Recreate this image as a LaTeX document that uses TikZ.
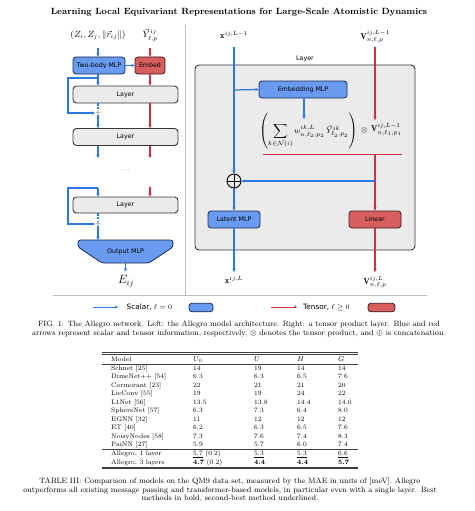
\documentclass[tikz,border=0pt]{standalone}
\usepackage{fontspec}
\newfontfamily\dv{DejaVu Sans}
\usetikzlibrary{arrows.meta,calc}
\definecolor{bl}{RGB}{45,120,225}
\definecolor{blf}{RGB}{105,155,240}
\definecolor{bld}{RGB}{25,40,85}
\definecolor{rdl}{RGB}{200,50,65}
\definecolor{rdf}{RGB}{215,95,95}
\definecolor{rdd}{RGB}{60,25,25}
\definecolor{lyf}{RGB}{235,235,235}
\definecolor{lyd}{RGB}{55,55,55}
\newcommand\trow[7]{%
  \node[tcell] (#2m) at (111,#1) {#3};
  \node[tcell] (#2a) at (193,#1) {#4};
  \node[tcell] (#2b) at (254,#1) {#5};
  \node[tcell] (#2c) at (297,#1) {#6};
  \node[tcell] (#2d) at (338,#1) {#7};}
\begin{document}
\begin{tikzpicture}[x=1pt,y=-1pt,
  tip/.style={-{Stealth[length=3.3pt,width=3.3pt]}},
  bla/.style={draw=bl,line width=1.25pt,tip},
  rda/.style={draw=rdl,line width=1.25pt,tip},
  bfont/.style={font=\dv\fontsize{6.3}{7}\selectfont},
  mlpb/.style={draw=bld,fill=blf,line width=0.8pt,rounded corners=3pt,inner sep=0,bfont},
  mlpr/.style={draw=rdd,fill=rdf,line width=0.8pt,rounded corners=3pt,inner sep=0,bfont},
  layerbox/.style={draw=lyd,fill=lyf,line width=0.9pt,rounded corners=3.5pt,inner sep=0,bfont,minimum width=105pt},
  lab/.style={inner sep=0,font=\fontsize{8.6}{10}\selectfont},
  plusn/.style={inner sep=0,text=gray,font=\dv\fontsize{7}{8}\selectfont},
  tcell/.style={anchor=base west,inner sep=0,font=\fontsize{6.6}{7}\selectfont},
  capt/.style={anchor=base,inner sep=0,font=\fontsize{7.7}{9}\selectfont},
  frm/.style={inner sep=0,font=\fontsize{8.4}{10}\selectfont},
  rule/.style={draw=black!75,line width=0.45pt}]
\useasboundingbox (0,0) rectangle (474,511);
\fill[white] (0,0) rectangle (474,511);

% title
\node[anchor=base,inner sep=0,font=\fontsize{9}{11}\selectfont\bfseries] (title) at (239,14.5)
  {Learning Local Equivariant Representations for Large-Scale Atomistic Dynamics};

% dividers
\coordinate (dvt) at (185.5,25);
\coordinate (dvb) at (185.5,295);
\coordinate (hl) at (53,295);
\coordinate (hr) at (427,295);
\draw[black!25,line width=0.8pt] (dvt) -- (dvb);
\draw[black!25,line width=0.8pt] (hl) -- (hr);

% ---------------- left panel ----------------
\node[lab] (zlab) at (98,35) {$(Z_i, Z_j, \|\vec{r}_{ij}\|)$};
\node[lab,anchor=west] (ylab) at (142.5,35.5) {$\vec{Y}^{ij}_{\ell,p}$};
\node[mlpb,minimum width=52pt,minimum height=17pt] (twobody) at (99,65.5) {Two-body MLP};
\node[mlpr,minimum width=30pt,minimum height=17pt] (embed) at (150,65.5) {Embed};
\node[layerbox,minimum height=17pt] (layer1) at (125.5,94.5) {Layer};
\node[layerbox,minimum height=17pt] (layer2) at (125.5,137) {Layer};
\node[layerbox,minimum height=16pt] (layer3) at (125.5,205) {Layer};
\node[plusn] (plus1) at (98,113) {+};
\node[plusn] (plus2) at (98,224) {+};
\node[inner sep=0,text=black!60,font=\fontsize{7}{8}\selectfont] (dots) at (125,170) {$\cdots$};

\coordinate (zs) at (98,48);
\coordinate (ys) at (150,48);
\draw[bla] (zs) -- (zs |- twobody.north);
\draw[rda] (ys) -- (embed.north);
\draw[bla] (twobody.east) -- (embed.west);
\draw[bla] (zs |- twobody.south) -- (zs |- layer1.north);
\draw[rda] (embed.south) -- (embed.south |- layer1.north);
\coordinate (s1) at (98,78);
\draw[bla] (s1) -- (68,78) -- (68,113) -- (plus1.west);
\draw[draw=bl,line width=1.25pt,dash pattern=on 2.2pt off 1.6pt] (zs |- layer1.south) -- (plus1.north);
\draw[bla] (plus1.south) -- (plus1 |- layer2.north);
\draw[rda] (embed |- layer1.south) -- (embed |- layer2.north);
\coordinate (b2) at (98,158);
\coordinate (r2) at (150,158);
\draw[bla] (zs |- layer2.south) -- (b2);
\draw[rda] (embed |- layer2.south) -- (r2);
\coordinate (b3) at (98,188);
\coordinate (r3) at (150,187);
\draw[bla] (b3) -- (b3 |- layer3.north);
\draw[rda] (r3) -- (r3 |- layer3.north);
\draw[bla] (b3) -- (68,188) -- (68,224) -- (plus2.west);
\draw[draw=bl,line width=1.25pt,dash pattern=on 2.2pt off 1.6pt] (zs |- layer3.south) -- (plus2.north);

% output MLP
\draw[draw=bld,fill=blf,line width=0.8pt,rounded corners=2.5pt]
  (78,240) -- (173,240) -- (173,247) -- (149,263) -- (102,263) -- (78,247) -- cycle;
\node[inner sep=0,bfont] (outmlp) at (125.5,251.5) {Output MLP};
\coordinate (outtop) at (98,240);
\coordinate (outbot) at (125.5,263);
\coordinate (eend) at (125.5,271.5);
\draw[bla] (plus2.south) -- (outtop);
\node[inner sep=0,font=\fontsize{12}{14}\selectfont] (elab) at (126,281) {$E_{ij}$};
\draw[bla] (outbot) -- (eend);

% ---------------- right panel ----------------
\node[lab] (xlab) at (234,35) {$\mathbf{x}^{ij,L-1}$};
\node[lab] (vlab) at (375,37) {$\mathbf{V}^{ij,L-1}_{n,\ell,p}$};
\node[draw=lyd,fill=lyf,line width=0.9pt,rounded corners=4pt,minimum width=220pt,minimum height=185pt,inner sep=0] (bigbox) at (305,157.5) {};
\node[inner sep=0,bfont] (laylab) at (305,59) {Layer};
\node[mlpb,minimum width=88pt,minimum height=17pt] (embmlp) at (303,89.5) {Embedding MLP};
\node[frm,anchor=east] (sumt) at (357.5,131.5)
  {$\left(\displaystyle\sum_{k\in\mathcal{N}(i)} w^{ik,L}_{n,\ell_2,p_2}\,\vec{Y}^{ik}_{\ell_2,p_2}\right)$};
\node[frm] (otm) at (364.5,130) {$\otimes$};
\node[frm,anchor=west] (vt) at (371,129.5) {$\mathbf{V}^{ij,L-1}_{n,\ell_1,p_1}$};
\node[circle,draw=black,line width=0.9pt,minimum size=14pt,inner sep=0] (op) at (234,181) {};
\draw[black,line width=0.9pt] (op.north) -- (op.south) (op.west) -- (op.east);
\node[mlpb,minimum width=52pt,minimum height=17pt] (latent) at (234,219.5) {Latent MLP};
\node[mlpr,minimum width=52pt,minimum height=17pt] (linear) at (375,219.5) {Linear};
\node[lab] (xout) at (234,280) {$\mathbf{x}^{ij,L}$};
\node[lab] (vout) at (375,282) {$\mathbf{V}^{ij,L}_{n,\ell,p}$};

\coordinate (xs) at (234,47);
\coordinate (vs) at (375,47);
\coordinate (e1) at (234,90);
\coordinate (f1) at (304,119);
\coordinate (vtop) at (375,120);
\coordinate (rl) at (263,154);
\coordinate (rr) at (402,154);
\coordinate (rj) at (375,154);
\coordinate (bj) at (375,181);
\coordinate (xe) at (234,272);
\coordinate (ve) at (375,272);
\draw[bla] (xs) -- (op.north);
\draw[bla] (e1) -- (embmlp.west);
\draw[bla] (embmlp.south -| f1) -- (f1);
\draw[rda] (vs) -- (vtop);
\draw[draw=rdl,line width=0.8pt] (rl) -- (rr);
\draw[rda] (rj) -- (linear.north);
\draw[bla] (bj) -- (op.east);
\draw[bla] (op.south) -- (latent.north);
\draw[bla] (latent.south) -- (xe);
\draw[rda] (linear.south) -- (ve);

% ---------------- legend ----------------
\coordinate (lg1a) at (93,307);
\coordinate (lg1b) at (118,307);
\coordinate (lg2a) at (271,307);
\coordinate (lg2b) at (297,307);
\draw[draw=bl,line width=0.9pt,-{Stealth[length=3pt,width=3pt]}] (lg1a) -- (lg1b);
\draw[draw=rdl,line width=0.9pt,-{Stealth[length=3pt,width=3pt]}] (lg2a) -- (lg2b);
\node[anchor=west,inner sep=0,font=\dv\fontsize{7.3}{8}\selectfont] (lgt1) at (126.5,307) {Scalar, $\ell=0$};
\node[anchor=west,inner sep=0,font=\dv\fontsize{7.3}{8}\selectfont] (lgt2) at (303,307) {Tensor, $\ell\geq 0$};
\node[mlpb,minimum width=24pt,minimum height=8.5pt] (lgb1) at (201,307.5) {};
\node[mlpr,minimum width=27pt,minimum height=8.5pt] (lgb2) at (381.5,307.5) {};

% ---------------- figure caption ----------------
\node[capt] (fc1) at (239,326.5) {FIG. 1: The Allegro network. Left: the Allegro model architecture. Right: a tensor product layer. Blue and red};
\node[capt] (fc2) at (239,335.7) {arrows represent scalar and tensor information, respectively, $\otimes$ denotes the tensor product, and $\oplus$ is concatenation.};

% ---------------- table ----------------
\coordinate (t1l) at (102,352.5); \coordinate (t1r) at (358,352.5);
\coordinate (t2l) at (102,354.3); \coordinate (t2r) at (358,354.3);
\coordinate (t3l) at (102,364); \coordinate (t3r) at (358,364);
\coordinate (t4l) at (102,449); \coordinate (t4r) at (358,449);
\coordinate (t5l) at (102,466.8); \coordinate (t5r) at (358,466.8);
\coordinate (t6l) at (102,468.6); \coordinate (t6r) at (358,468.6);
\draw[rule] (t1l) -- (t1r);
\draw[rule] (t2l) -- (t2r);
\draw[rule] (t3l) -- (t3r);
\draw[rule] (t4l) -- (t4r);
\draw[rule] (t5l) -- (t5r);
\draw[rule] (t6l) -- (t6r);
\trow{361.5}{h}{Model}{$U_0$}{$U$}{$H$}{$G$}
\trow{370}{ra}{Schnet [25]}{14}{19}{14}{14}
\trow{378.5}{rb}{DimeNet++ [54]}{6.3}{6.3}{6.5}{7.6}
\trow{387}{rc}{Cormorant [23]}{22}{21}{21}{20}
\trow{395.5}{rd}{LieConv [55]}{19}{19}{24}{22}
\trow{404}{re}{L1Net [56]}{13.5}{13.8}{14.4}{14.0}
\trow{412.5}{rf}{SphereNet [57]}{6.3}{7.3}{6.4}{8.0}
\trow{421}{rg}{EGNN [32]}{11}{12}{12}{12}
\trow{429.5}{rh}{ET [40]}{6.2}{6.3}{6.5}{7.6}
\trow{438}{ri}{NoisyNodes [58]}{7.3}{7.6}{7.4}{8.3}
\trow{446.5}{rj}{PaiNN [27]}{5.9}{5.7}{6.0}{7.4}
\trow{455.5}{rk}{Allegro, 1 layer}{\underline{5.7} (0.2)}{\underline{5.3}}{\underline{5.3}}{\underline{6.6}}
\trow{464}{rl}{Allegro, 3 layers}{\textbf{4.7} (0.2)}{\textbf{4.4}}{\textbf{4.4}}{\textbf{5.7}}

% ---------------- table caption ----------------
\node[capt] (tc1) at (230,483.5) {TABLE III: Comparison of models on the QM9 data set, measured by the MAE in units of [meV]. Allegro};
\node[capt] (tc2) at (230,492) {outperforms all existing message passing and transformer-based models, in particular even with a single layer. Best};
\node[capt] (tc3) at (230,500.5) {methods in bold, second-best method underlined.};
\end{tikzpicture}
\end{document}
